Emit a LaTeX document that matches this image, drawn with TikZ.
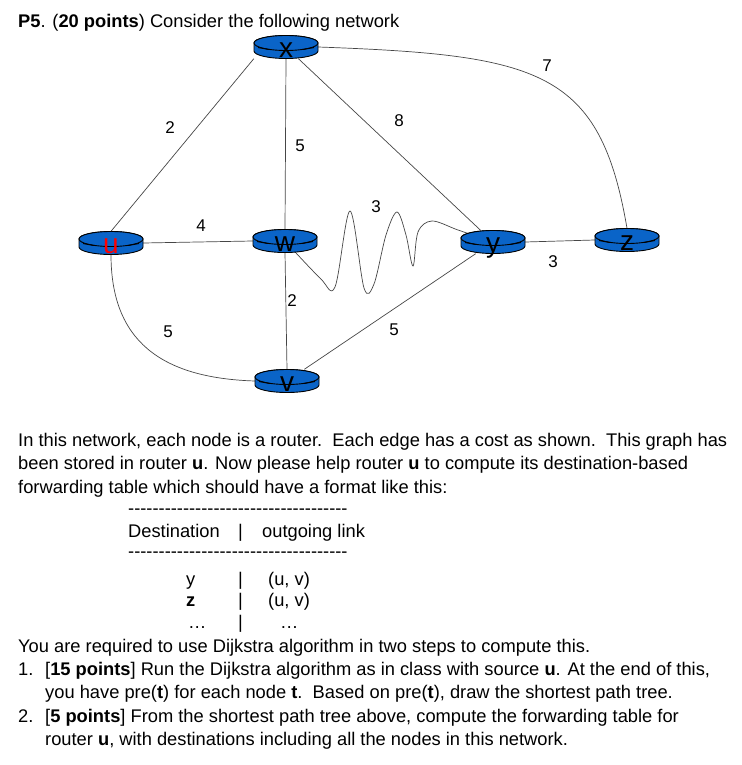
\documentclass[tikz,border=0pt]{standalone}
\usepackage{fontspec}
\setmainfont{Liberation Sans}
\newfontfamily\dashfont{Liberation Sans}[Ligatures=TeXOff]
\usetikzlibrary{calc,backgrounds}
\definecolor{routerblue}{RGB}{10,100,200}
\definecolor{linkgray}{RGB}{70,70,70}
\tikzset{
  pics/routerbody/.style = {code={
      \filldraw[fill=routerblue,draw=black,line width=0.9pt]
        (-32pt,4pt) -- (-32pt,-4pt) arc (180:360:32pt and 7.5pt)
        -- (32pt,4pt) arc (0:180:32pt and 7.5pt) -- cycle;
      \filldraw[fill=routerblue,draw=black,line width=0.9pt]
        (0pt,4pt) ellipse (32pt and 7.5pt);
      \draw[line width=1pt] (-28pt,-0.5pt) -- (-17pt,-2.5pt)
                            (17pt,-2.5pt) -- (28pt,-0.5pt);
  }},
  router/.style = {minimum width=64pt,minimum height=23pt,inner sep=0pt,
                   text height=21pt,text depth=0pt,
                   font=\fontsize{28}{28}\selectfont},
  link/.style   = {draw=linkgray,line width=0.7pt},
  cost/.style   = {font=\fontsize{17}{17}\selectfont,inner sep=1pt},
  txt/.style    = {anchor=base west,inner sep=0pt,
                   font=\fontsize{18.3}{23.5}\selectfont},
}

\begin{document}
\begin{tikzpicture}[x=1pt,y=-1pt]
  \useasboundingbox (0,0) rectangle (741,765);
  % routers
  \foreach \name/\px/\py/\col in {x/286/47/black,u/111/243/red,w/285/241/black,
                                  y/493/242/black,z/627/240/black,v/287/381/black}{
    \pic at (\px,\py) {routerbody};
    \node[router,text=\col] (\name) at (\px,\py) {\name};
  }
  \begin{scope}[on background layer]
    \draw[link] (x.south west) -- (u.north);
    \draw[link] (x.south) -- (w.north);
    \draw[link] (x) -- (y);
    \draw[link] (x.east) .. controls (540,55) and (600,70) .. (z.north);
    \draw[link] (u.east) -- (w.west);
    \draw[link] (u.south) .. controls (111,340) and (160,378) .. (v.west);
    \draw[link] (w.south) -- (v.north);
    \draw[link] plot[smooth,tension=0.55] coordinates {(w) (320,278) (335,287)
      (350,211) (364,288) (374,284) (386,235) (397,212) (406,235) (413,266)
      (418,232) (432,221) (458,230) (y)};
    \draw[link] (y.east) -- (z.west);
    \draw[link] (y) -- (v);
  \end{scope}
  % costs
  \node[cost] (c-xu) at (170,128) {2};
  \node[cost] (c-xw) at (300,146) {5};
  \node[cost] (c-xy) at (399,121) {8};
  \node[cost] (c-xz) at (547,66) {7};
  \node[cost] (c-uw) at (201,226) {4};
  \node[cost] (c-wy) at (376,207) {3};
  \node[cost] (c-yz) at (553,262) {3};
  \node[cost] (c-wv) at (292,301) {2};
  \node[cost] (c-uv) at (168,332) {5};
  \node[cost] (c-yv) at (394,330) {5};
  % text
  \node[txt] (title) at (18,28) {\textbf{P5}. (\textbf{20 points}) Consider the following network};
  \node[txt] (para1) at (18,446) {In this network, each node is a router.\ \ Each edge has a cost as shown.\ \ This graph has};
  \node[txt] (para2) at (18,469) {been stored in router \textbf{u}. Now please help router \textbf{u} to compute its destination-based};
  \node[txt] (para3) at (18,493) {forwarding table which should have a format like this:};
  \node[txt] (rule1) at (128,514) {\dashfont ------------------------------------};
  \node[txt] (hdest) at (128,537) {Destination};
  \node[txt] (hbar) at (238,537) {|};
  \node[txt] (hlink) at (262,537) {outgoing link};
  \node[txt] (rule2) at (128,557) {\dashfont ------------------------------------};
  \node[txt] (dy) at (186,585) {y};
  \node[txt] (bary) at (238,585) {|};
  \node[txt] (ly) at (268,585) {(u, v)};
  \node[txt] (dz) at (186,606) {\textbf{z}};
  \node[txt] (barz) at (238,606) {|};
  \node[txt] (lz) at (268,606) {(u, v)};
  \node[txt] (ddots) at (188,628) {…};
  \node[txt] (bardots) at (238,628) {|};
  \node[txt] (ldots) at (280,628) {…};
  \node[txt] (req) at (18,652) {You are required to use Dijkstra algorithm in two steps to compute this.};
  \node[txt] (n1) at (18,675) {1.};
  \node[txt] (s1a) at (45,675) {[\textbf{15 points}] Run the Dijkstra algorithm as in class with source \textbf{u}. At the end of this,};
  \node[txt] (s1b) at (45,698) {you have pre(\textbf{t}) for each node \textbf{t}.\ \ Based on pre(\textbf{t}), draw the shortest path tree.};
  \node[txt] (n2) at (18,722) {2.};
  \node[txt] (s2a) at (45,722) {[\textbf{5 points}] From the shortest path tree above, compute the forwarding table for};
  \node[txt] (s2b) at (45,745) {router \textbf{u}, with destinations including all the nodes in this network.};
\end{tikzpicture}
\end{document}
